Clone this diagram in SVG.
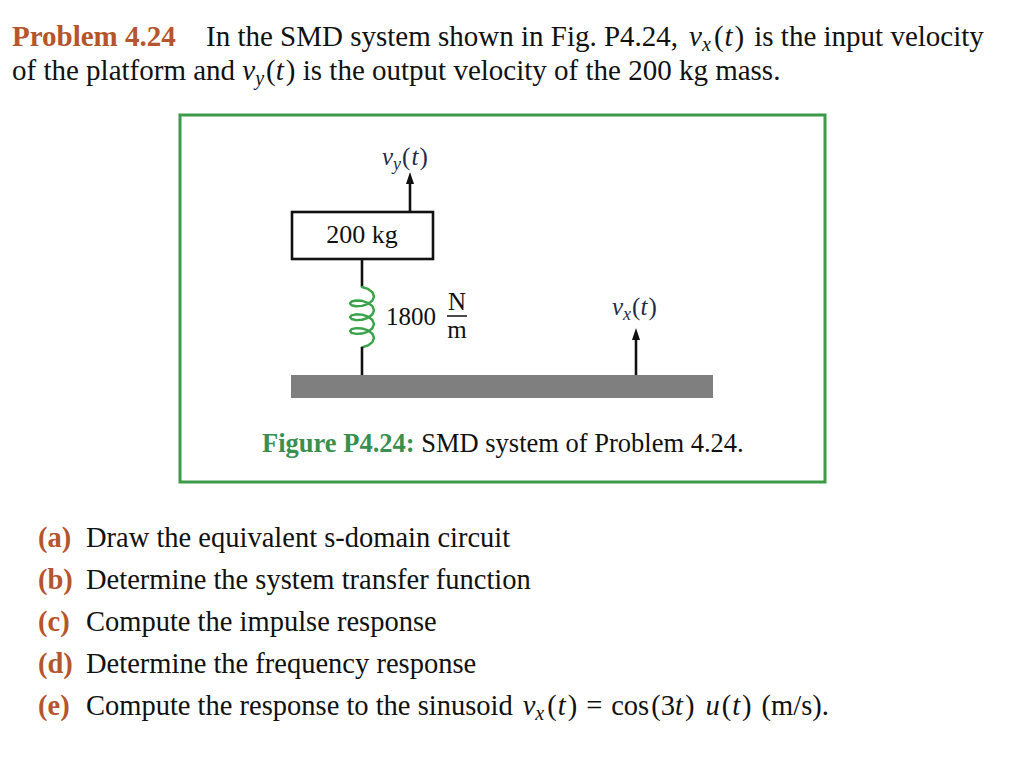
<svg xmlns="http://www.w3.org/2000/svg" width="1024" height="765" viewBox="0 0 1024 765">
<defs>
<style>
text{font-family:"Liberation Serif","Times New Roman",serif;fill:#111}
.hdr{font-size:29px}
.lst{font-size:28.5px}
.brb{font-weight:bold;fill:#b4552d}
.it{font-style:italic}
.lab{font-size:25px;fill:#1f2d4d}
.cap{font-size:26.5px}
.grb{font-weight:bold;fill:#3a8f4f}
.blk{stroke:#111;stroke-width:2.6;fill:none}
</style>
<marker id="ah" markerUnits="userSpaceOnUse" markerWidth="12" markerHeight="8" refX="0" refY="4" orient="auto">
<path d="M0,0 L12,4 L0,8 z" fill="#111"/>
</marker>
</defs>
<rect width="1024" height="765" fill="#fff"/>

<g id="header">
<text class="hdr" x="12" y="46"><tspan class="brb">Problem 4.24</tspan><tspan x="206">In the SMD system shown in Fig. P4.24,</tspan><tspan class="it" dx="11">v</tspan><tspan class="it" font-size="20" dy="5">x</tspan><tspan dy="-5" dx="3">(</tspan><tspan class="it" dx="1">t</tspan><tspan dx="2">)</tspan><tspan dx="10">is the input velocity</tspan></text>
<text class="hdr" x="12" y="80">of the platform and <tspan class="it">v</tspan><tspan class="it" font-size="20" dy="5">y</tspan><tspan dy="-5" dx="2">(</tspan><tspan class="it">t</tspan><tspan dx="2">)</tspan> is the output velocity of the 200 kg mass.</text>
</g>

<g id="frame">
<rect x="180" y="115" width="645" height="367" fill="none" stroke="#3c9a48" stroke-width="3"/>
</g>

<g id="platform">
<rect x="291" y="375" width="422" height="23" fill="#7f7f7f"/>
</g>

<g id="mass">
<rect x="292" y="212" width="141" height="47" fill="#fff" stroke="#111" stroke-width="2.6"/>
<text x="362" y="243" font-size="26" text-anchor="middle">200 kg</text>
</g>

<g id="spring">
<line class="blk" x1="362" y1="259" x2="362" y2="287"/>
<polyline fill="none" stroke="#3aa34a" stroke-width="2.4" stroke-linejoin="round" stroke-linecap="round" points="362,287 368,288.95 372.4,292.3 374,296.46 372.4,300.61 368,303.96 362,305.91 356,306.26 351.6,305.22 350,303.37 351.6,301.52 356,300.47 362,300.82 368,302.78 372.4,306.13 374,310.28 372.4,314.43 368,317.78 362,319.74 356,320.09 351.6,319.04 350,317.19 351.6,315.34 356,314.3 362,314.65 368,316.6 372.4,319.95 374,324.1 372.4,328.26 368,331.61 362,333.56 356,333.91 351.6,332.86 350,331.02 351.6,329.17 356,328.12 362,328.47 368,330.42 372.4,333.78 374,337.93 372.4,342.08 368,345.43 362,347.38"/>
<line class="blk" x1="362" y1="347" x2="362" y2="375"/>
<text x="386" y="325" font-size="25">1800</text>
<text x="457" y="310" font-size="25" text-anchor="middle">N</text>
<line x1="447" y1="316" x2="467" y2="316" stroke="#111" stroke-width="1.5"/>
<text x="457" y="338" font-size="25" text-anchor="middle">m</text>
</g>

<g id="labels">
<text class="lab" x="382" y="165"><tspan class="it">v</tspan><tspan class="it" font-size="18" dy="5">y</tspan><tspan dy="-5" dx="1">(</tspan><tspan class="it" dx="1">t</tspan><tspan dx="1">)</tspan></text>
<text class="lab" x="612" y="315"><tspan class="it">v</tspan><tspan class="it" font-size="18" dy="5">x</tspan><tspan dy="-5" dx="1">(</tspan><tspan class="it">t</tspan><tspan dx="1">)</tspan></text>
</g>

<g id="connectors">
<line class="blk" x1="410" y1="212" x2="410" y2="184" marker-end="url(#ah)"/>
<line class="blk" x1="636" y1="375" x2="636" y2="340" marker-end="url(#ah)"/>
</g>

<g id="caption">
<text class="cap" x="262" y="452"><tspan class="grb">Figure P4.24:</tspan> SMD system of Problem 4.24.</text>
</g>

<g id="questions">
<text class="lst" x="38" y="547"><tspan class="brb">(a)</tspan><tspan x="86">Draw the equivalent s-domain circuit</tspan></text>
<text class="lst" x="38" y="589"><tspan class="brb">(b)</tspan><tspan x="86">Determine the system transfer function</tspan></text>
<text class="lst" x="38" y="631"><tspan class="brb">(c)</tspan><tspan x="86">Compute the impulse response</tspan></text>
<text class="lst" x="38" y="673"><tspan class="brb">(d)</tspan><tspan x="86">Determine the frequency response</tspan></text>
<text class="lst" x="38" y="715"><tspan class="brb">(e)</tspan><tspan x="86">Compute the response to the sinusoid</tspan><tspan class="it" dx="10">v</tspan><tspan class="it" font-size="20" dy="5">x</tspan><tspan dy="-5" dx="3">(</tspan><tspan class="it" dx="1">t</tspan><tspan dx="2">)</tspan><tspan dx="9">=</tspan><tspan dx="9">cos</tspan><tspan dx="2">(</tspan><tspan>3</tspan><tspan class="it">t</tspan><tspan dx="2">)</tspan><tspan class="it" dx="11">u</tspan><tspan dx="2">(</tspan><tspan class="it" dx="1">t</tspan><tspan dx="2">)</tspan><tspan dx="10">(m/s).</tspan></text>
</g>
</svg>
